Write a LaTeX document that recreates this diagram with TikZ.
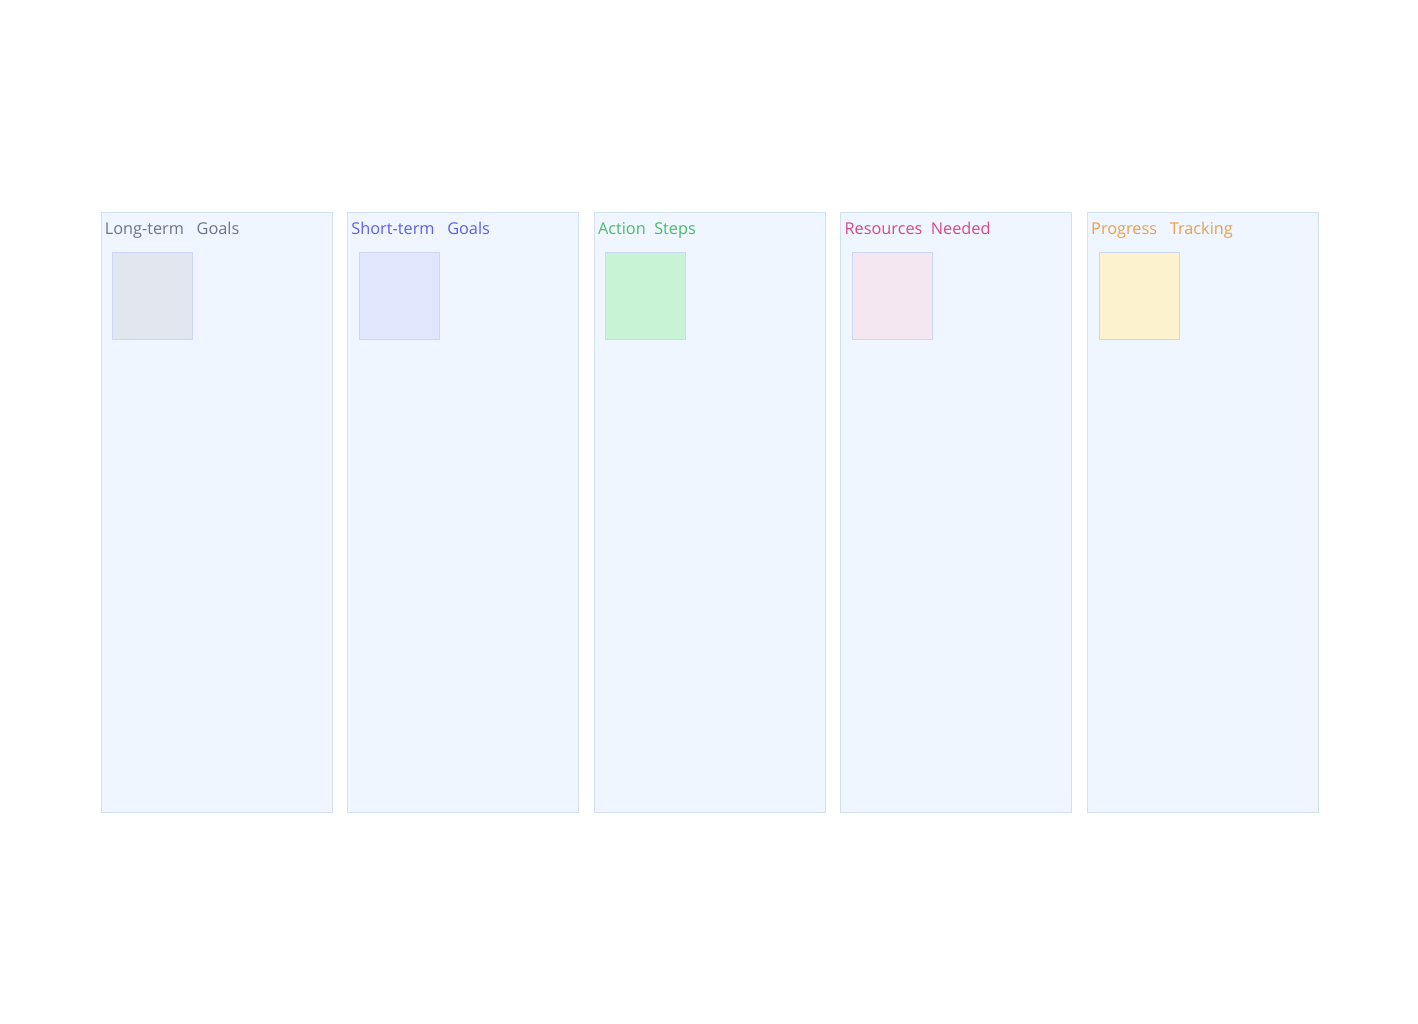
\documentclass[tikz,border=0pt]{standalone}
\usepackage{fontspec}
\setmainfont{Open Sans}
\usepackage{tikz}
\usetikzlibrary{positioning}
\definecolor{laneFill}{HTML}{EFF6FF}
\definecolor{laneLine}{HTML}{D3DEF7}
\definecolor{cardLine}{HTML}{CDD8F8}
\definecolor{grayText}{HTML}{6B7489}
\definecolor{grayCard}{HTML}{E2E7EF}
\definecolor{indigoText}{HTML}{5F5FE8}
\definecolor{indigoCard}{HTML}{E0E7FD}
\definecolor{greenText}{HTML}{4CBB6A}
\definecolor{greenCard}{HTML}{C8F3D5}
\definecolor{pinkText}{HTML}{D8488C}
\definecolor{pinkCard}{HTML}{F5E7F1}
\definecolor{orangeText}{HTML}{EBA04A}
\definecolor{orangeCard}{HTML}{FCF2CD}
\tikzset{
  lane/.style={draw=laneLine, fill=laneFill, line width=0.8pt, minimum width=231pt, minimum height=600pt, anchor=north west, inner sep=0pt},
  card/.style={draw=cardLine, line width=0.8pt, minimum width=80pt, minimum height=87pt, anchor=north west, inner sep=0pt},
  title/.style={anchor=base west, inner sep=0pt, font=\fontsize{16.3}{18}\selectfont}
}
\begin{document}
\begin{tikzpicture}[x=1pt, y=-1pt]
    \useasboundingbox (0,0) rectangle (1418,1024);
    % Lanes
    \foreach \i/\name/\txt/\tcol/\ccol in {0/long/{Long-term\ \ \ Goals}/grayText/grayCard,
        1/short/{Short-term\ \ \ Goals}/indigoText/indigoCard,
        2/action/{Action\ \ Steps}/greenText/greenCard,
        3/res/{Resources\ \ Needed}/pinkText/pinkCard,
        4/prog/{Progress\ \ \ Tracking}/orangeText/orangeCard} {
        \node [lane] (\name) at (100.6+246.6*\i, 212) {};
        \node [title, text=\tcol] (\name-title) at ([xshift=4pt, yshift=-23pt]\name.north west) {\txt};
        \node [card, fill=\ccol] (\name-card) at ([xshift=11.5pt, yshift=-40pt]\name.north west) {};
    }
\end{tikzpicture}
\end{document}
